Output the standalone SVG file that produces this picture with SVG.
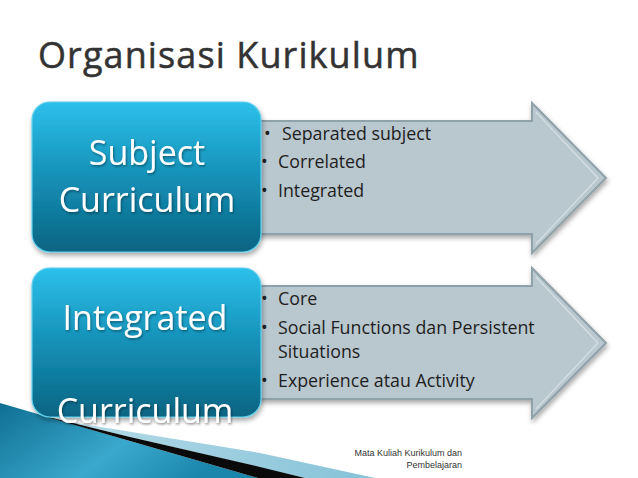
<svg xmlns="http://www.w3.org/2000/svg" width="638" height="478" viewBox="0 0 638 478">
<defs>
<linearGradient id="boxg" x1="0" y1="0" x2="0" y2="1">
<stop offset="0" stop-color="#2cc0ea"/>
<stop offset="0.5" stop-color="#1590b7"/>
<stop offset="1" stop-color="#0a6482"/>
</linearGradient>
<linearGradient id="swg" x1="0" y1="0" x2="1" y2="0.4">
<stop offset="0" stop-color="#0e6f93"/>
<stop offset="0.6" stop-color="#3aa8cc"/>
<stop offset="1" stop-color="#1a86ab"/>
</linearGradient>
<linearGradient id="bandg" x1="0" y1="0" x2="1" y2="0">
<stop offset="0" stop-color="#b9dde9"/>
<stop offset="1" stop-color="#86c2d8"/>
</linearGradient>
<filter id="sh" x="-10%" y="-10%" width="125%" height="130%">
<feDropShadow dx="1" dy="3" stdDeviation="2.5" flood-color="#000" flood-opacity="0.35"/>
</filter>
<filter id="tsh" x="-10%" y="-20%" width="120%" height="150%">
<feDropShadow dx="1" dy="1.5" stdDeviation="1" flood-color="#000" flood-opacity="0.4"/>
</filter>
<style>
.title{font-family:"Open Sans",sans-serif;font-size:36px;fill:#333333;stroke:#333333;stroke-width:0.5;letter-spacing:1.1px}
.box{fill:url(#boxg);stroke:#5fd0ee;stroke-width:1.2;filter:url(#sh)}
.btxt{font-family:"Open Sans",sans-serif;font-size:34px;fill:#ffffff;text-anchor:middle;filter:url(#tsh)}
.arrow{fill:#b9c7ce;stroke:#8fa1a9;stroke-width:2;filter:url(#sh)}
.hl{fill:none;stroke:#d6e0e5;stroke-width:1.2}
.li{font-family:"Open Sans",sans-serif;font-size:17.8px;fill:#1e1e1e}
.foot{font-family:"Liberation Sans",Arial,sans-serif;font-size:9px;fill:#333;text-anchor:end}
</style>
</defs>
<rect width="638" height="478" fill="#ffffff"/>
<text class="title" x="38" y="68">Organisasi Kurikulum</text>
<g id="decoration">
<polygon points="0,403 130,441 258,478 0,478" fill="url(#swg)"/>
<polygon points="64,421 260,453 375,478 305,478 130,437 42,416" fill="url(#bandg)"/>
<polygon points="40,415 130,437 260,467 305,478 258,478 130,441" fill="#0a0a0a"/>
</g>
<g id="connectors"></g>
<g id="arrow1">
<polygon class="arrow" points="250,121 532,121 532,103 606,178 532,253 532,234 250,234"/>
<polyline class="hl" points="536,112 598,178 536,244"/>
<text class="li" x="264" y="140">•<tspan x="282">Separated subject</tspan></text>
<text class="li" x="261" y="168">•<tspan x="278">Correlated</tspan></text>
<text class="li" x="261" y="197">•<tspan x="278">Integrated</tspan></text>
</g>
<g id="box1">
<rect class="box" x="32" y="102" width="229" height="150" rx="18"/>
<text class="btxt" x="147" y="165">Subject</text>
<text class="btxt" x="147" y="212">Curriculum</text>
</g>
<g id="arrow2">
<polygon class="arrow" points="250,286 532,286 532,268 606,343 532,418 532,399 250,399"/>
<polyline class="hl" points="536,277 598,343 536,409"/>
<text class="li" x="261" y="305">•<tspan x="278">Core</tspan></text>
<text class="li" x="261" y="334">•<tspan x="278">Social Functions dan Persistent</tspan></text>
<text class="li" x="278" y="358">Situations</text>
<text class="li" x="261" y="387">•<tspan x="278">Experience atau Activity</tspan></text>
</g>
<g id="box2">
<rect class="box" x="32" y="268" width="229" height="149" rx="18"/>
<text class="btxt" x="145" y="330">Integrated</text>
<text class="btxt" x="145" y="423">Curriculum</text>
</g>
<g id="footer">
<text class="foot" x="462" y="456">Mata Kuliah Kurikulum dan</text>
<text class="foot" x="462" y="468">Pembelajaran</text>
</g>
</svg>
